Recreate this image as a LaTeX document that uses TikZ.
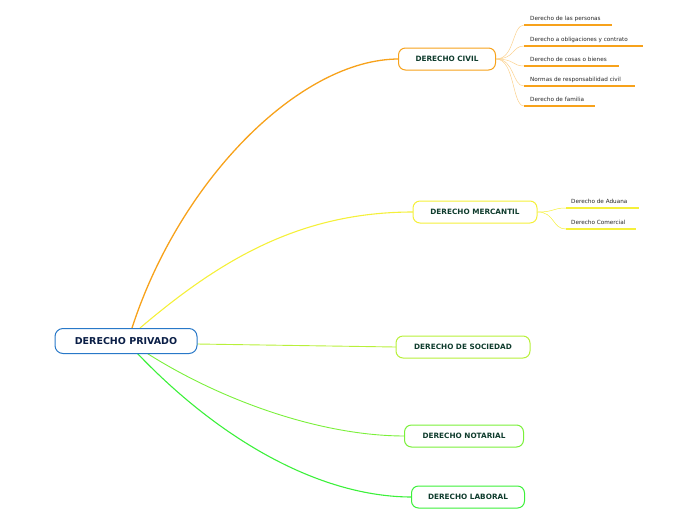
\documentclass[tikz,border=0pt]{standalone}
\usepackage{fontspec}
\setmainfont{DejaVu Sans}
\begin{document}
\begin{tikzpicture}[x=1pt,y=-1pt,
 br/.style={draw=#1,line width=1pt,rounded corners=7pt,minimum height=22pt,fill=white,font=\bfseries\fontsize{7.3}{8}\selectfont,text={rgb,255:red,15;green,60;blue,45},inner xsep=8pt},
 leaf/.style={anchor=base west,font=\fontsize{5.7}{6}\selectfont,inner sep=0pt,text=black!85},
 ul/.style={draw=#1,line width=1.3pt}]
\useasboundingbox (0,0) rectangle (696,520);
\definecolor{cor}{HTML}{F7A21B}
\definecolor{cye}{HTML}{F5F03A}
\definecolor{cyg}{HTML}{B8F03A}
\definecolor{cgn}{HTML}{7AF03A}
\definecolor{cgr}{HTML}{3CF03A}
\coordinate (r1) at (132,328);\coordinate (r2) at (140,328);\coordinate (r3) at (197,344);
\coordinate (r4) at (145,352);\coordinate (r5) at (137,353);
\draw[cor,line width=1.3pt] (r1) .. controls (180,180) and (300,59) .. (399,59);
\draw[cye,line width=1.1pt] (r2) .. controls (220,260) and (300,212) .. (413,212);
\draw[cyg,line width=0.9pt] (r3) -- (396,347);
\draw[cgn,line width=0.9pt] (r4) .. controls (220,400) and (320,436) .. (405,436);
\draw[cgr,line width=1.1pt] (r5) .. controls (220,440) and (320,497) .. (412,497);
\node[draw={rgb,255:red,40;green,120;blue,200},line width=1pt,rounded corners=8pt,minimum width=142pt,minimum height=25pt,fill=white,font=\bfseries\fontsize{9.5}{10}\selectfont,text={rgb,255:red,10;green,30;blue,70}] (root) at (126,341) {DERECHO PRIVADO};
\node[br=cor,minimum width=97pt] (civ) at (447,59) {DERECHO CIVIL};
\node[br=cye,minimum width=124pt] (mer) at (475,212) {DERECHO MERCANTIL};
\node[br=cyg,minimum width=134pt] (soc) at (463,347) {DERECHO DE SOCIEDAD};
\node[br=cgn,minimum width=119pt] (not) at (464,436) {DERECHO NOTARIAL};
\node[br=cgr,minimum width=113pt] (lab) at (468,497) {DERECHO LABORAL};
\foreach \y/\x/\t [count=\i] in {25/612/Derecho de las personas,46/643/Derecho a obligaciones y contrato,66/619/Derecho de cosas o bienes,86/635/Normas de responsabilidad civil,106/595/Derecho de familia}{
 \coordinate (a\i) at (524,\y); \coordinate (b\i) at (\x,\y);
 \draw[cor!50,line width=0.5pt] (civ.east) .. controls (515,59) and (512,\y) .. (a\i);
 \draw[ul=cor] (a\i) -- (b\i);
 \node[leaf] (l\i) at (530,\y-4.5) {\t};}
\foreach \y/\x/\t [count=\i] in {208/639/Derecho de Aduana,229/636/Derecho Comercial}{
 \coordinate (c\i) at (566,\y); \coordinate (d\i) at (\x,\y);
 \draw[cye,line width=0.5pt] (mer.east) .. controls (555,212) and (552,\y) .. (c\i);
 \draw[ul=cye] (c\i) -- (d\i);
 \node[leaf] (m\i) at (571,\y-4.5) {\t};}
\end{tikzpicture}
\end{document}
